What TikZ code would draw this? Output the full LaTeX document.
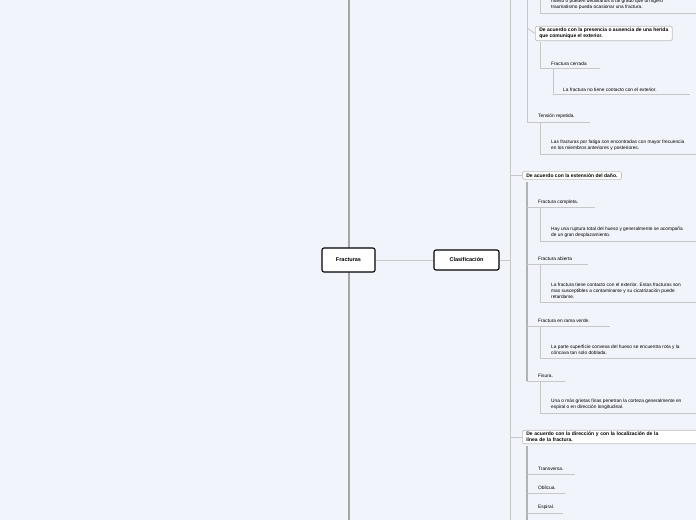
\documentclass[tikz,border=0pt]{standalone}
\usepackage{fontspec}
\setmainfont{Liberation Sans}
\begin{document}
\begin{tikzpicture}[x=1pt,y=-1pt,
  ln/.style={draw=black!22,line width=0.8pt},
  thick ln/.style={draw=black!30,line width=1.6pt},
  rootbox/.style={draw=black,line width=1.1pt,rounded corners=2pt,fill=white,font=\fontsize{5.5}{6}\selectfont\bfseries,inner sep=0pt},
  catbox/.style={draw=black!25,line width=0.7pt,rounded corners=2pt,fill=white,font=\fontsize{5}{5.8}\selectfont\bfseries,inner xsep=4pt,inner ysep=2pt,anchor=west,align=left},
  lbl/.style={font=\fontsize{4.8}{6.3}\selectfont,anchor=south west,inner sep=0pt,align=left}]
\fill[fill={rgb,255:red,242;green,244;blue,252}] (0,0) rectangle (696,520);
\useasboundingbox (0,0) rectangle (696,520);
\clip (0,0) rectangle (696,520);
% main spine
\draw[thick ln,draw=black!35] (349,0) -- (349,520);
\node[rootbox,minimum width=53pt,minimum height=24pt] (fr) at (348.5,260) {Fracturas};
\node[rootbox,minimum width=65pt,minimum height=20pt] (cl) at (466.5,260) {Clasificación};
\draw[ln] (fr) -- (cl);
\coordinate (s0) at (510,0); \coordinate (s1) at (510,520);
\draw[ln] (cl.east) -- (510,260);
\draw[ln] (s0) -- (s1);
% top group
\draw[ln] (527,0) -- (527,122) -- (590,122);
\draw[ln] (540,0) -- (540,13) -- (696,13);
\node[lbl] (t0) at (551,10) {hueso o pueden debilitarlos a tal grado que un ligero\\traumatismo pueda ocasionar una fractura.};
\node[catbox] (c0) at (535,33.5) {De acuerdo con la presencia o ausencia de una herida\\que comunique el exterior.};
\draw[ln] (527,28) -- (c0.west);
\draw[ln] (540,42) -- (540,68) -- (600,68);
\node[lbl] (fc) at (551,66) {Fractura cerrada};
\draw[ln] (553,68) -- (553,94) -- (690,94);
\node[lbl] (fcd) at (563,91.5) {La fractura no tiene contacto con el exterior.};
\node[lbl] (tr) at (538,119) {Tensión repetida.};
\draw[ln] (540,122) -- (540,154) -- (696,154);
\node[lbl] (trd) at (551,151) {Las fracturas por fatiga son encontradas con mayor frecuencia\\en los miembros anteriores y posteriores.};
% group 2
\node[catbox] (c1) at (522,175.5) {De acuerdo con la extensión del daño.};
\draw[ln] (510,175.5) -- (c1.west);
\draw[thick ln] (527,182) -- (527,381);
\draw[ln] (527,207) -- (595,207);
\node[lbl] (a1) at (538,204.5) {Fractura completa.};
\draw[ln] (540,207) -- (540,241) -- (696,241);
\node[lbl] (a1d) at (551,237.5) {Hay una ruptura total del hueso y generalmente se acompaña\\de un gran desplazamiento.};
\draw[ln] (527,264) -- (588,264);
\node[lbl] (a2) at (538,261) {Fractura abierta};
\draw[ln] (540,264) -- (540,302) -- (696,302);
\node[lbl] (a2d) at (551,299) {La fractura tiene contacto con el exterior. Estas fracturas son\\mas susceptibles a contaminarse y su cicatrización puede\\retardarse.};
\draw[ln] (527,326) -- (610,326);
\node[lbl] (a3) at (538,323) {Fractura en rama verde.};
\draw[ln] (540,326) -- (540,358) -- (696,358);
\node[lbl] (a3d) at (551,355) {La parte superficie convexa del hueso se encuentra rota y la\\cóncava tan solo doblada.};
\draw[ln] (527,381) -- (565,381);
\node[lbl] (a4) at (538,378) {Fisura.};
\draw[ln] (540,381) -- (540,413) -- (696,413);
\node[lbl] (a4d) at (551,410) {Una o más grietas finas penetran la corteza generalmente en\\espiral o en dirección longitudinal.};
% group 3
\node[catbox,text width=168pt] (c2) at (522,437) {De acuerdo con la dirección y con la localización de la\\línea de la fractura.};
\draw[ln] (510,437) -- (c2.west);
\draw[thick ln] (527,446) -- (527,520);
\draw[ln] (527,474) -- (575,474);
\node[lbl] (b1) at (538,471) {Transversa.};
\draw[ln] (527,493) -- (565,493);
\node[lbl] (b2) at (538,490) {Oblicua.};
\draw[ln] (527,513) -- (563,513);
\node[lbl] (b3) at (538,510) {Espiral.};
\end{tikzpicture}
\end{document}
